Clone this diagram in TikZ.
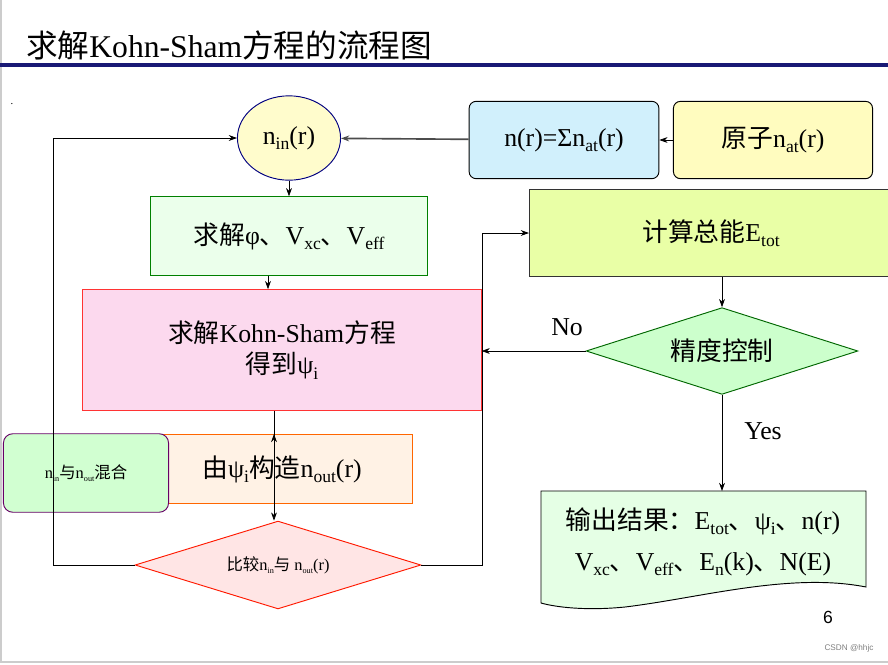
\documentclass[tikz,border=0pt]{standalone}
\usepackage{fontspec}
\setmainfont{Liberation Serif}
\newfontfamily\cjk{Noto Sans CJK SC}
\newfontfamily\sans{Liberation Sans}
\usetikzlibrary{shapes.geometric,arrows.meta}
\newcommand\zh[1]{{\cjk #1}}
\newcommand\sbs[1]{\raisebox{-0.45ex}{\fontsize{15}{15}\selectfont #1}}
\begin{document}
\begin{tikzpicture}[x=0.03cm,y=-0.03cm,
  box/.style={draw,rectangle,inner sep=0pt,font=\fontsize{22}{27}\selectfont,align=center,line width=0.8pt},
  arr/.style={-{Stealth[length=7pt,width=5pt]},line width=0.6pt},
  lbl/.style={font=\fontsize{22}{26}\selectfont}]
\useasboundingbox (0,0) rectangle (888,664);
\fill[white] (0,0) rectangle (888,664);
\draw[gray!40,line width=2pt] (1,0) -- (1,662) -- (888,662);
% title
\node[anchor=west,font=\fontsize{27}{30}\selectfont] (title) at (22,45) {\zh{求解}Kohn-Sham\zh{方程的流程图}};
\fill[blue!40!black!90] (0,63) rectangle (888,67);
\node[font=\small] (dot) at (12,104) {.};
% nodes
\node[draw=blue!50!black,fill=yellow!20,ellipse,minimum width=88,minimum height=72,line width=0.8pt,inner sep=0pt,font=\fontsize{22}{26}\selectfont] (nin) at (289,138) {n\sbs{in}(r)};
\node[box,rounded corners=6pt,fill=cyan!18,minimum width=162,minimum height=66] (nsum) at (564,140) {n(r)=Σn\sbs{at}(r)};
\node[box,rounded corners=6pt,fill=yellow!25,minimum width=170,minimum height=66] (atom) at (773,140) {\zh{原子}n\sbs{at}(r)};
\node[box,draw=green!50!black,fill=green!8,minimum width=237,minimum height=67] (phi) at (289,236) {\zh{求解}φ\zh{、}V\sbs{xc}\zh{、}V\sbs{eff}};
\node[box,draw=red!80!white,fill=magenta!15,minimum width=340,minimum height=103] (ks) at (282,350) {\zh{求解}Kohn-Sham\zh{方程}\\\zh{得到}ψ\sbs{i}};
\node[box,draw=orange!80!red,fill=orange!10,minimum width=222,minimum height=59] (out) at (282,469) {\zh{由}ψ\sbs{i}\zh{构造}n\sbs{out}(r)};
\draw (53,420) -- (53,540);
\node[box,rounded corners=8pt,draw=violet!80!black,fill=green!18,minimum width=141,minimum height=67,font=\fontsize{14}{17}\selectfont] (mix) at (86,473) {n\raisebox{-0.4ex}{\scriptsize in}\zh{与}n\raisebox{-0.4ex}{\scriptsize out}\zh{混合}};
\node[diamond,draw=red!80!orange,fill=pink!40,aspect=3.25,minimum width=244,minimum height=75,inner sep=0pt,line width=0.8pt,font=\fontsize{14}{17}\selectfont] (cmp) at (278,565) {\zh{比较}n\raisebox{-0.4ex}{\scriptsize in}\zh{与} n\raisebox{-0.4ex}{\scriptsize out}(r)};
\node[box,draw=black!80,fill=lime!35,minimum width=310,minimum height=74] (etot) at (711,233) {\zh{计算总能}E\sbs{tot}};
\node[diamond,draw=green!40!black,fill=green!20,aspect=3.1,minimum width=232,minimum height=74,inner sep=0pt,line width=0.8pt,font=\fontsize{22}{26}\selectfont] (prec) at (722,351) {\zh{精度控制}};
% output document shape
\draw[fill=green!10,line width=0.8pt] (541,491) -- (866,491) -- (866,587) .. controls (790,572) and (700,598) .. (625,607) .. controls (585,611) and (555,607) .. (541,603) -- cycle;
\node[align=center,font=\fontsize{22}{35}\selectfont] (res) at (703,542) {\zh{输出结果：}E\sbs{tot}\zh{、}ψ\sbs{i}\zh{、}n(r)\\V\sbs{xc}\zh{、}V\sbs{eff}\zh{、}E\sbs{n}(k)\zh{、}N(E)};
\coordinate (resn) at (722,491);
% labels
\node[lbl] (no) at (567,327) {No};
\node[lbl] (yes) at (763,431) {Yes};
\node[font=\sans\fontsize{15}{18}\selectfont] (pg) at (828,617) {6};
\node[font=\sans\fontsize{7}{8}\selectfont,text=gray] (csdn) at (849,648) {CSDN @hhjc};
% connectors
\draw[arr] (atom) -- (nsum);
\draw[arr,line width=1.4pt,draw=black!70] (nsum) -- (nin);
\draw[arr] (nin) -- (nin|-phi.north);
\draw[arr] (phi.south-|268,0) -- (ks.north-|268,0);
\draw[arr] (ks.south-|274,0) -- (out.south-|274,0) (out.north-|274,0);
\draw[arr] (out.south-|274,0) -- (cmp.north-|274,0);
\draw[arr] (cmp.west) -- (53,565) -- (53,138) -- (nin.west);
\draw[arr] (cmp.east) -- (482,565) -- (482,233) -- (etot.west);
\draw[arr] (etot.south-|prec.north) -- (prec.north);
\draw[arr] (prec.west) -- (ks.east|-prec.west);
\draw[arr] (prec.south) -- (resn);
\end{tikzpicture}
\end{document}
